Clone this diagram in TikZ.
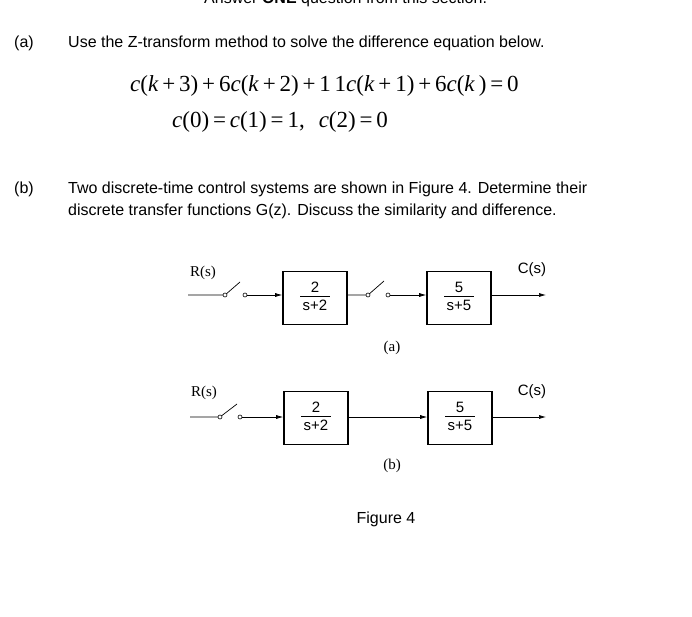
\documentclass[tikz,border=0pt]{standalone}
\usepackage{fontspec}
\setmainfont{Liberation Sans}
\newfontfamily\tms{Liberation Serif}
\usetikzlibrary{arrows.meta}
\newcommand{\ci}{\textit{c}}
\newcommand{\ki}{\textit{k}}
\newcommand{\fr}[2]{\begin{tabular}{@{\,}c@{\,}}#1\\[-2pt]\hline\rule{0pt}{14pt}#2\end{tabular}}
\begin{document}
\begin{tikzpicture}[x=1pt,y=-1pt,
  txt/.style={anchor=base west,inner sep=0pt,font=\fontsize{16}{19}\selectfont},
  eq/.style={anchor=base west,inner sep=0pt,font=\tms\fontsize{23}{26}\selectfont},
  blk/.style={draw,line width=1.6pt,minimum width=64pt,minimum height=53pt,inner sep=0pt,font=\fontsize{15}{17}\selectfont},
  sig/.style={line width=0.7pt},
  arr/.style={sig,-{Latex[length=7pt,width=4pt]}},
  hole/.style={circle,draw,line width=0.6pt,inner sep=0pt,minimum size=4pt,fill=white},
  lbl/.style={inner sep=0pt,font=\tms\fontsize{15}{17}\selectfont},
  slbl/.style={inner sep=0pt,font=\fontsize{15}{17}\selectfont}]
\useasboundingbox (0,0) rectangle (692,617);
\begin{scope}
\clip (0,0) rectangle (692,617);
\node[txt] (top) at (204,4) {Answer \textbf{ONE} question from this section.};
\end{scope}
\node[txt] (la) at (14,48) {(a)};
\node[txt] (ta) at (68,48) {Use the Z-transform method to solve the difference equation below.};
\node[eq] (e1) at (130,92) {\ci(\ki\,+\,3)\,+\,6\ci(\ki\,+\,2)\,+\,1\,1\ci(\ki\,+\,1)\,+\,6\ci(\ki\,)\,=\,0};
\node[eq] (e2) at (172,128) {\ci(0)\,=\,\ci(1)\,=\,1,\hspace{14pt}\ci(2)\,=\,0};
\node[txt] (lb) at (14,194) {(b)};
\node[txt] (tb1) at (68,194) {Two discrete-time control systems are shown in Figure 4. Determine their};
\node[txt] (tb2) at (68,216) {discrete transfer functions G(z). Discuss the similarity and difference.};

% system (a)
\coordinate (a0) at (188,295);
\coordinate (ap1) at (225,295);
\coordinate (ab1) at (240,282);
\node[hole] (ah1) at (245,295) {};
\node[blk] (A1) at (315,298) {\fr{2}{s+2}};
\coordinate (ap2) at (368,295);
\coordinate (ab2) at (384,281);
\node[hole] (ah2) at (388,295) {};
\node[blk] (A2) at (459,298) {\fr{5}{s+5}};
\coordinate (aout) at (546,295);
\draw[sig] (a0) -- (ap1) -- (ab1);
\draw[arr] (ah1) -- (ah1 -| A1.west);
\draw[sig] (ap2 -| A1.east) -- (ap2) -- (ab2);
\draw[arr] (ah2) -- (ah2 -| A2.west);
\draw[arr] (aout -| A2.east) -- (aout);
\node[hole] at (ap1) {};\node[hole] at (ap2) {};
\node[lbl] (aR) at (203,273) {R(s)};
\node[slbl] (aC) at (532,270) {C(s)};
\node[lbl] (acap) at (392,348) {(a)};

% system (b)
\coordinate (b0) at (190,417);
\coordinate (bp1) at (220,417);
\coordinate (bb1) at (237,404);
\node[hole] (bh1) at (240,417) {};
\node[blk] (B1) at (316,418) {\fr{2}{s+2}};
\node[blk] (B2) at (460,418) {\fr{5}{s+5}};
\coordinate (bout) at (546,417);
\draw[sig] (b0) -- (bp1) -- (bb1);
\draw[arr] (bh1) -- (bh1 -| B1.west);
\draw[arr] (bout -| B1.east) -- (bout -| B2.west);
\draw[arr] (bout -| B2.east) -- (bout);
\node[hole] at (bp1) {};
\node[lbl] (bR) at (204,393) {R(s)};
\node[slbl] (bC) at (532,392) {C(s)};
\node[lbl] (bcap) at (392,466) {(b)};
\node[txt,anchor=base] (fig) at (386,523) {Figure 4};
\end{tikzpicture}
\end{document}
